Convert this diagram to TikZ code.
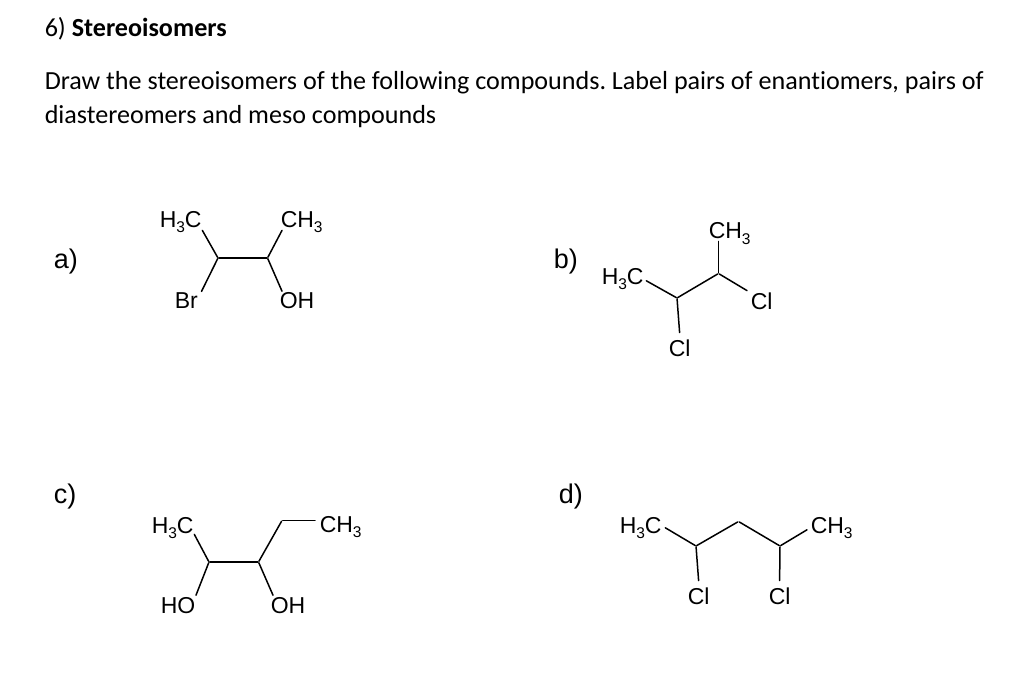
\documentclass[tikz,border=0pt]{standalone}
\usepackage{fontspec}
\setmainfont[Ligatures=NoCommon]{Carlito}
\newfontfamily\chemfont{Liberation Sans}
\usetikzlibrary{positioning}
\frenchspacing
\newcommand{\lowthree}{\raisebox{-5.5pt}{\fontsize{15.5pt}{15pt}\selectfont 3}}
\newcommand{\threeH}{H\lowthree C}
\newcommand{\threeC}{CH\lowthree}

\begin{document}
\begin{tikzpicture}[x=1pt,y=-1pt,line width=1.5pt,line cap=round,
                    carbon/.style={inner sep=0pt,minimum size=0pt},
                    atom/.style={anchor=base west,inner sep=0pt,font=\chemfont\fontsize{23pt}{24pt}\selectfont},
                    body/.style={anchor=base west,inner sep=0pt,font=\fontsize{26.1pt}{30pt}\selectfont},
                    part/.style={anchor=base west,inner sep=0pt,font=\chemfont\fontsize{27pt}{30pt}\selectfont}]
  \useasboundingbox (0,0) rectangle (1024,676);

  % question text
  \node[body] (title) at (44,37) {6) \textbf{Stereoisomers}};
  \node[body] (line1) at (44,90) {Draw the stereoisomers of the following compounds. Label pairs of enantiomers, pairs of};
  \node[body] (line2) at (44,124) {diastereomers and meso compounds};

  % part a
  \node[part] (parta) at (53,268) {a)};
  \node[carbon] (a1) at (218,258) {};
  \node[carbon] (a2) [right=48pt of a1] {};
  \node[atom] (a3) at (159,227) {\threeH};
  \node[atom] (a4) at (280,227) {\threeC};
  \node[atom] (a5) at (174,308) {Br};
  \node[atom] (a6) at (279,308) {OH};
  \path
    (a1) edge (a2)
         edge ([yshift=3pt]a3.south east)
         edge ([xshift=3pt]a5.north east)
    (a2) edge ([xshift=2pt,yshift=3pt]a4.south west)
         edge ([xshift=3pt]a6.north west);

  % part b
  \node[part] (partb) at (553,268) {b)};
  \node[carbon] (b1) at (677,298) {};
  \node[carbon] (b2) [above right=23pt and 40pt of b1] {};
  \node[atom] (b3) at (601,284) {\threeH};
  \node[atom] (b4) at (708,239) {\threeC};
  \node[atom] (b5) at (668,356) {Cl};
  \node[atom] (b6) at (750,309) {Cl};
  \path
    (b1) edge (b2)
         edge ([xshift=2pt,yshift=-2pt]b3.east)
         edge ([yshift=6pt]b5.north)
    (b2) edge ([yshift=4pt]b2 |- b4.south)
         edge ([xshift=-3pt,yshift=1pt]b6.north west);

  % part c
  \node[part] (partc) at (53,503) {c)};
  \node[carbon] (c1) at (209,562) {};
  \node[carbon] (c2) [right=48pt of c1] {};
  \node[carbon] (c3) [above right=40pt and 22pt of c2] {};
  \node[atom] (c4) at (151,533) {\threeH};
  \node[atom] (c5) at (319,532) {\threeC};
  \node[atom] (c6) at (160,613) {HO};
  \node[atom] (c7) at (270,613) {OH};
  \path
    (c1) edge (c2)
         edge ([yshift=5pt]c4.south east)
         edge ([yshift=1pt]c6.north east)
    (c2) edge (c3)
         edge ([xshift=3pt,yshift=1pt]c7.north west)
    (c3) edge ([xshift=-4pt,yshift=0pt]c3 -| c5.west);

  % part d
  \node[part] (partd) at (558,503) {d)};
  \node[carbon] (d1) at (696,546) {};
  \node[carbon] (d2) [above right=23pt and 41pt of d1] {};
  \node[carbon] (d3) [below right=23pt and 40pt of d2] {};
  \node[atom] (d4) at (619,533) {\threeH};
  \node[atom] (d5) at (810,533) {\threeC};
  \node[atom] (d6) at (687,604) {Cl};
  \node[atom] (d7) at (768,604) {Cl};
  \path
    (d1) edge (d2)
         edge ([xshift=3pt]d4.east)
         edge ([yshift=6pt]d6.north)
    (d2) edge (d3)
    (d3) edge ([xshift=-3pt,yshift=-2pt]d5.west)
         edge ([yshift=6pt]d7.north);
\end{tikzpicture}
\end{document}
